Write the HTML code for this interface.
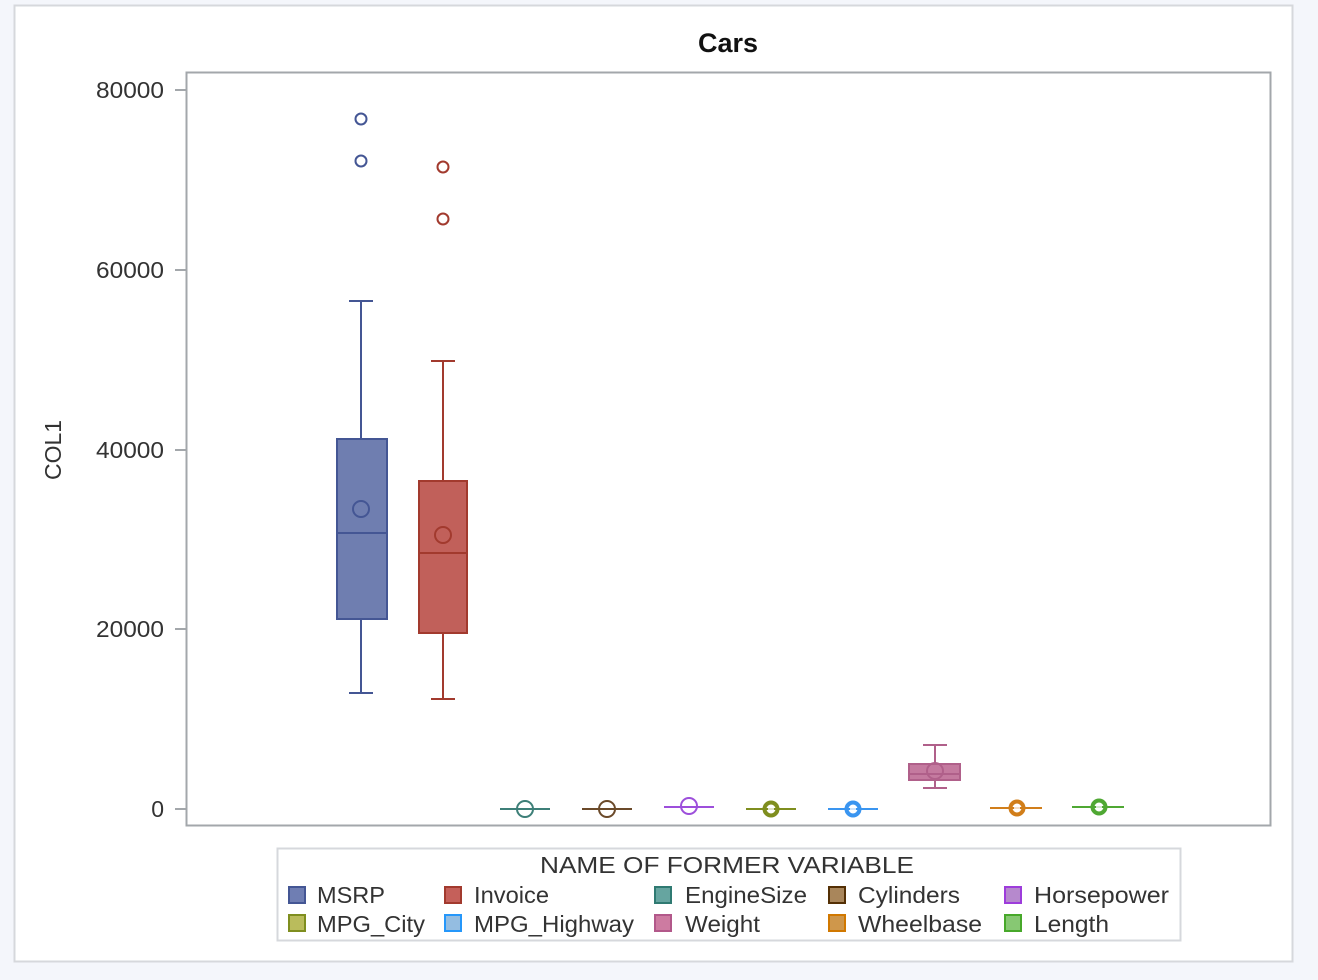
<!DOCTYPE html>
<html><head><meta charset="utf-8"><style>
html,body{margin:0;padding:0;background:#f4f6fb;}
svg{display:block;}
text{font-family:"Liberation Sans",Arial,sans-serif;fill:#333;}
</style></head><body>
<svg width="1318" height="980" viewBox="0 0 1318 980" xmlns="http://www.w3.org/2000/svg">
<rect x="0" y="0" width="1318" height="980" fill="#f4f6fb"/>
<rect x="14.5" y="5.5" width="1278" height="956" fill="#ffffff" stroke="#d6d8dc" stroke-width="2"/>
<!-- title -->
<text x="728" y="52" font-size="27" font-weight="bold" text-anchor="middle" fill="#111" style="fill:#111">Cars</text>
<!-- plot frame -->
<rect x="186.5" y="72.5" width="1084" height="753" fill="#fff" stroke="#a3a7ab" stroke-width="2"/>
<!-- y ticks -->
<g stroke="#a3a7ab" stroke-width="2">
<line x1="175" y1="90" x2="186" y2="90"/>
<line x1="175" y1="270" x2="186" y2="270"/>
<line x1="175" y1="450" x2="186" y2="450"/>
<line x1="175" y1="629" x2="186" y2="629"/>
<line x1="175" y1="809" x2="186" y2="809"/>
</g>
<g font-size="23" text-anchor="end">
<text x="164" y="98" textLength="68" lengthAdjust="spacingAndGlyphs">80000</text>
<text x="164" y="278" textLength="68" lengthAdjust="spacingAndGlyphs">60000</text>
<text x="164" y="458" textLength="68" lengthAdjust="spacingAndGlyphs">40000</text>
<text x="164" y="637" textLength="68" lengthAdjust="spacingAndGlyphs">20000</text>
<text x="164" y="817">0</text>
</g>
<text transform="translate(61,450) rotate(-90)" font-size="23" text-anchor="middle">COL1</text>

<!-- MSRP -->
<g stroke="#445694" stroke-width="2" fill="none">
<line x1="361" y1="301" x2="361" y2="439"/>
<line x1="349" y1="301" x2="373" y2="301"/>
<line x1="361" y1="619" x2="361" y2="693"/>
<line x1="349" y1="693" x2="373" y2="693"/>
<rect x="337" y="439" width="50" height="180" fill="#6f7eb0"/>
<line x1="337" y1="533" x2="387" y2="533"/>
<circle cx="361" cy="509" r="8"/>
<circle cx="361" cy="119" r="5.5"/>
<circle cx="361" cy="161" r="5.5"/>
</g>
<!-- Invoice -->
<g stroke="#a23a2e" stroke-width="2" fill="none">
<line x1="443" y1="361" x2="443" y2="481"/>
<line x1="431" y1="361" x2="455" y2="361"/>
<line x1="443" y1="633" x2="443" y2="699"/>
<line x1="431" y1="699" x2="455" y2="699"/>
<rect x="419" y="481" width="48" height="152" fill="#c1605a"/>
<line x1="419" y1="553" x2="467" y2="553"/>
<circle cx="443" cy="535" r="8"/>
<circle cx="443" cy="167" r="5.5"/>
<circle cx="443" cy="219" r="5.5"/>
</g>
<!-- EngineSize -->
<g stroke="#3d7f78" stroke-width="2" fill="none">
<line x1="500" y1="809" x2="550" y2="809"/>
<circle cx="525" cy="809" r="8"/>
</g>
<!-- Cylinders -->
<g stroke="#6b4a2a" stroke-width="2" fill="none">
<line x1="582" y1="809" x2="632" y2="809"/>
<circle cx="607" cy="809" r="8"/>
</g>
<!-- Horsepower -->
<g stroke="#9d4fdb" stroke-width="2" fill="none">
<line x1="664" y1="807" x2="714" y2="807"/>
<circle cx="689" cy="806" r="8"/>
</g>
<!-- MPG_City -->
<g stroke="#7f8e1f" stroke-width="2" fill="none">
<line x1="746" y1="809" x2="796" y2="809"/>
<circle cx="771" cy="809" r="6.5" stroke-width="4"/>
<line x1="768" y1="809" x2="774" y2="809" stroke="#fff" stroke-width="1.5"/>
</g>
<!-- MPG_Highway -->
<g stroke="#3a95f0" stroke-width="2" fill="none">
<line x1="828" y1="809" x2="878" y2="809"/>
<circle cx="853" cy="809" r="6.5" stroke-width="4"/>
<line x1="850" y1="809" x2="856" y2="809" stroke="#fff" stroke-width="1.5"/>
</g>
<!-- Weight -->
<g stroke="#b0608a" stroke-width="2" fill="none">
<line x1="935" y1="745" x2="935" y2="764"/>
<line x1="923" y1="745" x2="947" y2="745"/>
<line x1="935" y1="780" x2="935" y2="788"/>
<line x1="923" y1="788" x2="947" y2="788"/>
<rect x="909" y="764" width="51" height="16" fill="#c47a9f"/>
<line x1="909" y1="774" x2="960" y2="774"/>
<circle cx="935" cy="771" r="8"/>
</g>
<!-- Wheelbase -->
<g stroke="#d17e1a" stroke-width="2" fill="none">
<line x1="990" y1="808" x2="1042" y2="808"/>
<circle cx="1017" cy="808" r="6.5" stroke-width="4"/>
<line x1="1014" y1="808" x2="1020" y2="808" stroke="#fff" stroke-width="1.5"/>
</g>
<!-- Length -->
<g stroke="#4fa833" stroke-width="2" fill="none">
<line x1="1072" y1="807" x2="1124" y2="807"/>
<circle cx="1099" cy="807" r="6.5" stroke-width="4"/>
<line x1="1096" y1="807" x2="1102" y2="807" stroke="#fff" stroke-width="1.5"/>
</g>

<!-- Legend -->
<rect x="277.5" y="848.5" width="903" height="92" fill="#fff" stroke="#d6d8dc" stroke-width="2"/>
<text x="540" y="873" font-size="23" textLength="374" lengthAdjust="spacingAndGlyphs">NAME OF FORMER VARIABLE</text>
<g stroke-width="2">
<rect x="289" y="887" width="16" height="16" fill="#6f7eb3" stroke="#445694"/>
<rect x="445" y="887" width="16" height="16" fill="#c5605a" stroke="#a23a2e"/>
<rect x="655" y="887" width="16" height="16" fill="#66a5a0" stroke="#2f7a72"/>
<rect x="829" y="887" width="16" height="16" fill="#a9865b" stroke="#543005"/>
<rect x="1005" y="887" width="16" height="16" fill="#b689cd" stroke="#9d3cdb"/>
<rect x="289" y="915" width="16" height="16" fill="#babc5c" stroke="#7f8e1f"/>
<rect x="445" y="915" width="16" height="16" fill="#94bde1" stroke="#2597fa"/>
<rect x="655" y="915" width="16" height="16" fill="#cd7ba1" stroke="#b2588a"/>
<rect x="829" y="915" width="16" height="16" fill="#cf974b" stroke="#d17800"/>
<rect x="1005" y="915" width="16" height="16" fill="#87c873" stroke="#47a82a"/>
</g>
<g font-size="23">
<text x="317" y="903" textLength="68" lengthAdjust="spacingAndGlyphs">MSRP</text>
<text x="474" y="903" textLength="75" lengthAdjust="spacingAndGlyphs">Invoice</text>
<text x="685" y="903" textLength="122" lengthAdjust="spacingAndGlyphs">EngineSize</text>
<text x="858" y="903" textLength="102" lengthAdjust="spacingAndGlyphs">Cylinders</text>
<text x="1034" y="903" textLength="135" lengthAdjust="spacingAndGlyphs">Horsepower</text>
<text x="317" y="932" textLength="108" lengthAdjust="spacingAndGlyphs">MPG_City</text>
<text x="474" y="932" textLength="160" lengthAdjust="spacingAndGlyphs">MPG_Highway</text>
<text x="685" y="932" textLength="75" lengthAdjust="spacingAndGlyphs">Weight</text>
<text x="858" y="932" textLength="124" lengthAdjust="spacingAndGlyphs">Wheelbase</text>
<text x="1034" y="932" textLength="75" lengthAdjust="spacingAndGlyphs">Length</text>
</g>
</svg>
</body></html>
